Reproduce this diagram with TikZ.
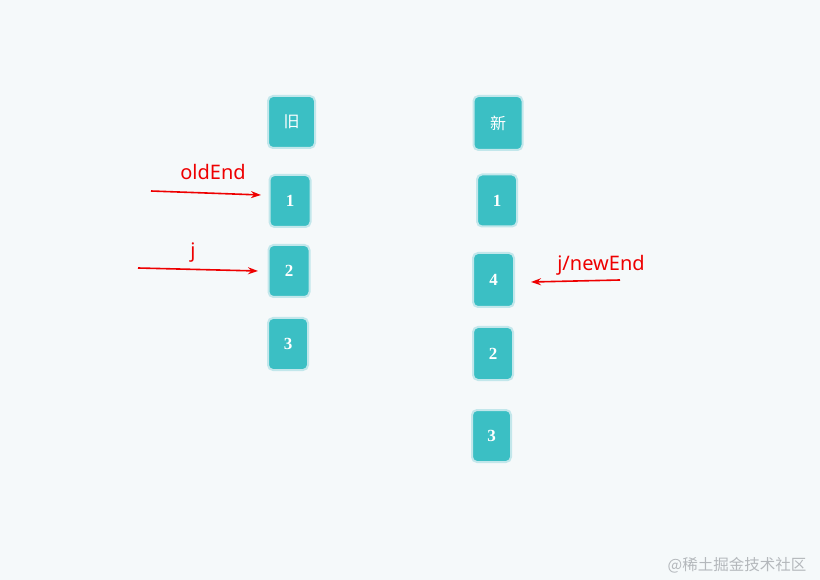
\documentclass[tikz,border=0pt]{standalone}
\usepackage{fontspec}
\setmainfont{Liberation Serif}
\newfontfamily\cjkf{Noto Sans CJK SC}
\newfontfamily\lblf{Noto Sans}
\usetikzlibrary{arrows.meta}
\definecolor{bgc}{HTML}{F5F9FA}
\definecolor{boxfill}{HTML}{3BBFC4}
\definecolor{boxline}{HTML}{C2E7EB}
\definecolor{redc}{HTML}{EE0000}
\definecolor{wmc}{HTML}{B4B8BC}
\tikzset{
  cell/.style={draw=boxline, line width=2pt, fill=boxfill, rounded corners=5pt,
    text=white, minimum width=41pt, minimum height=52pt, inner sep=0pt,
    font=\bfseries\fontsize{17}{17}\selectfont},
  headcell/.style={cell, minimum width=47pt, font=\cjkf\fontsize{16}{16}\selectfont},
  ptr/.style={draw=redc, line width=1.6pt, -{Stealth[length=10pt,width=7pt]}},
  lbl/.style={text=redc, font=\lblf\fontsize{20}{20}\selectfont, inner sep=0pt}
}
\begin{document}
\begin{tikzpicture}[x=1pt,y=-1pt]
\fill[bgc] (0,0) rectangle (820,580);
\useasboundingbox (0,0) rectangle (820,580);
% old column
\node[headcell] (oh) at (291.5,122) {旧};
\node[cell] (o1) at (290,201) {1};
\node[cell] (o2) at (289,271) {2};
\node[cell, minimum width=40pt] (o3) at (288,344) {3};
% new column
\node[headcell, minimum width=49pt, minimum height=54pt] (nh) at (498,123) {新};
\node[cell, minimum width=40pt] (n1) at (497,200.5) {1};
\node[cell, minimum height=54pt] (n4) at (493.5,280) {4};
\node[cell, minimum width=40pt, minimum height=53pt] (n2) at (493,353.5) {2};
\node[cell, minimum width=39pt] (n3) at (491.5,436) {3};
% pointers
\coordinate (a1s) at (151,191);
\coordinate (a1e) at (261,195);
\coordinate (a2s) at (138,268);
\coordinate (a2e) at (258,271);
\coordinate (a3s) at (620,280);
\coordinate (a3e) at (531,282);
\draw[ptr] (a1s) -- (a1e);
\draw[ptr] (a2s) -- (a2e);
\draw[ptr] (a3s) -- (a3e);
\node[lbl] (l1) at (213,172) {oldEnd};
\node[lbl] (l2) at (193,253) {j};
\node[lbl] (l3) at (601,265) {j/newEnd};
% watermark
\node[text=wmc, font=\cjkf\fontsize{15.5}{15.5}\selectfont, inner sep=0pt] (wm) at (737,565) {@稀土掘金技术社区};
\end{tikzpicture}
\end{document}
